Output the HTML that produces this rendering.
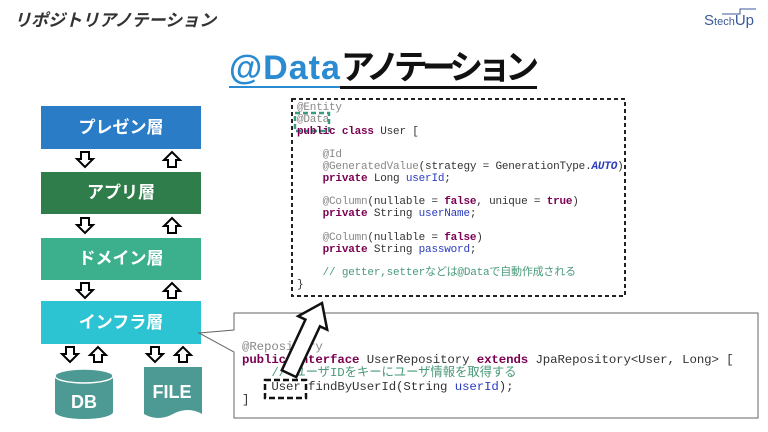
<!DOCTYPE html>
<html><head><meta charset="utf-8"><style>
body{margin:0;width:768px;height:432px;background:#fff;overflow:hidden;position:relative;font-family:"Liberation Sans","Noto Sans CJK JP",sans-serif}
.t{position:absolute;white-space:pre}
.code{position:absolute;font-family:"Liberation Mono","Noto Sans CJK JP",monospace;font-size:11px;color:#333;white-space:pre;letter-spacing:-0.2px}
.k{color:#7b0052;font-weight:bold}.a{color:#888}.v{color:#2a3bbf}.c{color:#4a9a7a}
.box{position:absolute;left:41px;width:160px;height:43px;color:#fff;font-weight:bold;font-size:17px;text-align:center;line-height:43px}
</style></head><body>
<div class="t" style="left:14px;top:6px;font-size:17px;font-weight:bold;font-style:italic;color:#333">リポジトリアノテーション</div>
<div class="t" style="left:704px;top:12px;font-size:15px;color:#3a5a9a">S<span style="font-size:11px">tech</span>Up</div>
<svg style="position:absolute;left:720px;top:6px" width="40" height="10"><path d="M2 8 H20 V3 H36" stroke="#3a5a9a" fill="none"/></svg>
<div class="t" style="left:229px;top:48px;font-size:34px;font-weight:bold;line-height:40px"><span style="color:#2a8bd0;letter-spacing:1px">@Data</span><span style="color:#111;letter-spacing:-6px">アノテーション</span></div>
<div style="position:absolute;left:229px;top:86px;width:111px;height:2px;background:#2a8bd0"></div>
<div style="position:absolute;left:340px;top:86px;width:197px;height:3px;background:#111"></div>

<div class="box" style="top:106px;background:#2a7cc7">プレゼン層</div>
<div class="box" style="top:172px;height:42px;line-height:42px;background:#2f7d4a">アプリ層</div>
<div class="box" style="top:238px;height:42px;line-height:42px;background:#3cb08c">ドメイン層</div>
<div class="box" style="top:301px;background:#2cc3d2">インフラ層</div>

<svg style="position:absolute;left:0;top:0" width="768" height="432">
<defs>
<path id="dn" d="M-4 0 H4 V7 H8 L0 15 L-8 7 H-4 Z" fill="#fff" stroke="#000" stroke-width="2"/>
<path id="up" d="M-4 15 H4 V8 H8 L0 0 L-8 8 H-4 Z" fill="#fff" stroke="#000" stroke-width="2"/>
</defs>
<use href="#dn" x="85" y="152"/><use href="#up" x="172" y="152"/>
<use href="#dn" x="85" y="218"/><use href="#up" x="172" y="218"/>
<use href="#dn" x="85" y="283"/><use href="#up" x="172" y="283"/>
<use href="#dn" x="70" y="347"/><use href="#up" x="98" y="347"/>
<use href="#dn" x="155" y="347"/><use href="#up" x="183" y="347"/>
<path d="M55 376 V412 A29 7 0 0 0 113 412 V376" fill="#4d9a94"/>
<ellipse cx="84" cy="376" rx="29" ry="7" fill="#4d9a94" stroke="#fff" stroke-width="1.5"/>
<path d="M144 367 H202 V414 Q188 406 173 414 Q158 422 144 414 Z" fill="#4d9a94"/>
<text x="84" y="408" fill="#fff" font-size="18" font-weight="bold" text-anchor="middle" font-family="Liberation Sans">DB</text>
<text x="172" y="398" fill="#fff" font-size="18" font-weight="bold" text-anchor="middle" font-family="Liberation Sans">FILE</text>
<rect x="292" y="99" width="333" height="197" fill="none" stroke="#222" stroke-width="2" stroke-dasharray="4,3"/>
<rect x="295" y="113" width="34" height="18" fill="none" stroke="#3a9a80" stroke-width="2.5" stroke-dasharray="5,3"/>
<path d="M234 313 H758 V418 H234 V352 L199 333 L234 330 Z" fill="#fff" stroke="#666" stroke-width="1"/>
</svg>

<div class="code" style="left:297px;top:103px;line-height:11.8px"><span class="a">@Entity</span>
<span class="a">@Data</span>
<span class="k">public</span> <span class="k">class</span> User [

    <span class="a">@Id</span>
    <span class="a">@GeneratedValue</span>(strategy = GenerationType.<span class="v"><b><i>AUTO</i></b></span>)
    <span class="k">private</span> Long <span class="v">userId</span>;

    <span class="a">@Column</span>(nullable = <span class="k">false</span>, unique = <span class="k">true</span>)
    <span class="k">private</span> String <span class="v">userName</span>;

    <span class="a">@Column</span>(nullable = <span class="k">false</span>)
    <span class="k">private</span> String <span class="v">password</span>;

    <span class="c">// getter,setterなどは@Dataで自動作成される</span>
}</div>

<div class="code" style="left:242px;top:341px;line-height:13.2px;font-size:12.4px;letter-spacing:-0.1px"><span class="a">@Repository</span>
<span class="k">public</span> <span class="k">interface</span> UserRepository <span class="k">extends</span> JpaRepository&lt;User, Long&gt; [
    <span class="c">// ユーザIDをキーにユーザ情報を取得する</span>
    User findByUserId(String <span class="v">userId</span>);
]</div>

<svg style="position:absolute;left:0;top:0" width="768" height="432">
<rect x="265" y="380" width="41" height="18" fill="none" stroke="#111" stroke-width="2.5" stroke-dasharray="6,3"/>
<g transform="translate(322,303) rotate(25)">
<path d="M0 0 L16 22 L8 22 L8 78 L-8 78 L-8 22 L-16 22 Z" fill="#fff" stroke="#111" stroke-width="2.5" stroke-linejoin="miter"/>
</g>
</svg>
</body></html>
